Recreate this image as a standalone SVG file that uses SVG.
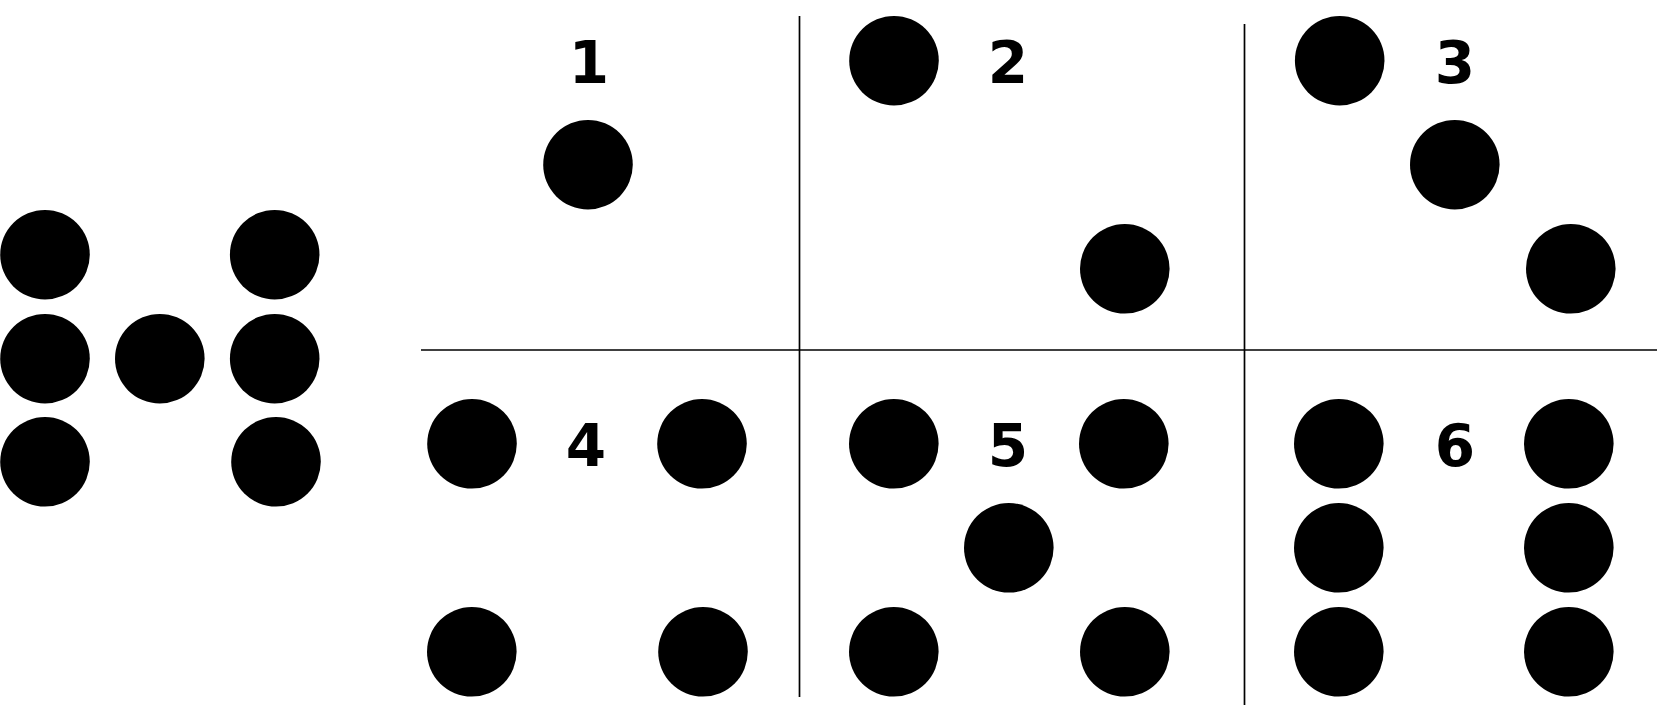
<svg xmlns="http://www.w3.org/2000/svg" width="1657" height="707" viewBox="0 0 1657 707">
  <style>
    .dot { fill: #000; }
    .grid { stroke: #000; stroke-width: 1.7; fill: none; }
    .num { font-family: "DejaVu Sans", "Liberation Sans", sans-serif; font-weight: bold; font-size: 58px; fill: #000; text-anchor: middle; }
  </style>
  <rect x="0" y="0" width="1657" height="707" fill="#fff"/>
  <g id="grid-lines">
    <line class="grid" x1="799.5" y1="16" x2="799.5" y2="697"/>
    <line class="grid" x1="1244.5" y1="24" x2="1244.5" y2="705"/>
    <line class="grid" x1="421" y1="350" x2="1657" y2="350"/>
  </g>
  <g id="pattern">
    <circle class="dot" cx="45" cy="254.7" r="44.8"/>
    <circle class="dot" cx="274.7" cy="254.7" r="44.8"/>
    <circle class="dot" cx="45" cy="358.7" r="44.8"/>
    <circle class="dot" cx="159.8" cy="358.7" r="44.8"/>
    <circle class="dot" cx="274.7" cy="358.7" r="44.8"/>
    <circle class="dot" cx="45" cy="461.8" r="44.8"/>
    <circle class="dot" cx="276" cy="461.8" r="44.8"/>
  </g>
  <g id="panel-1">
    <text class="num" x="589" y="83">1</text>
    <circle class="dot" cx="588" cy="164.7" r="44.8"/>
  </g>
  <g id="panel-2">
    <circle class="dot" cx="894" cy="60.7" r="44.8"/>
    <text class="num" x="1008" y="83">2</text>
    <circle class="dot" cx="1124.8" cy="268.8" r="44.8"/>
  </g>
  <g id="panel-3">
    <circle class="dot" cx="1339.7" cy="60.7" r="44.8"/>
    <text class="num" x="1455" y="83">3</text>
    <circle class="dot" cx="1454.8" cy="164.7" r="44.8"/>
    <circle class="dot" cx="1570.8" cy="268.8" r="44.8"/>
  </g>
  <g id="panel-4">
    <circle class="dot" cx="472" cy="443.8" r="44.8"/>
    <text class="num" x="586" y="466">4</text>
    <circle class="dot" cx="702" cy="443.8" r="44.8"/>
    <circle class="dot" cx="471.8" cy="651.8" r="44.8"/>
    <circle class="dot" cx="703" cy="651.8" r="44.8"/>
  </g>
  <g id="panel-5">
    <circle class="dot" cx="893.8" cy="443.8" r="44.8"/>
    <text class="num" x="1008" y="466">5</text>
    <circle class="dot" cx="1123.8" cy="443.8" r="44.8"/>
    <circle class="dot" cx="1008.8" cy="547.8" r="44.8"/>
    <circle class="dot" cx="893.8" cy="651.8" r="44.8"/>
    <circle class="dot" cx="1124.8" cy="651.8" r="44.8"/>
  </g>
  <g id="panel-6">
    <circle class="dot" cx="1338.8" cy="443.8" r="44.8"/>
    <text class="num" x="1455" y="466">6</text>
    <circle class="dot" cx="1568.8" cy="443.8" r="44.8"/>
    <circle class="dot" cx="1338.8" cy="547.8" r="44.8"/>
    <circle class="dot" cx="1568.8" cy="547.8" r="44.8"/>
    <circle class="dot" cx="1338.8" cy="651.8" r="44.8"/>
    <circle class="dot" cx="1568.8" cy="651.8" r="44.8"/>
  </g>
</svg>
